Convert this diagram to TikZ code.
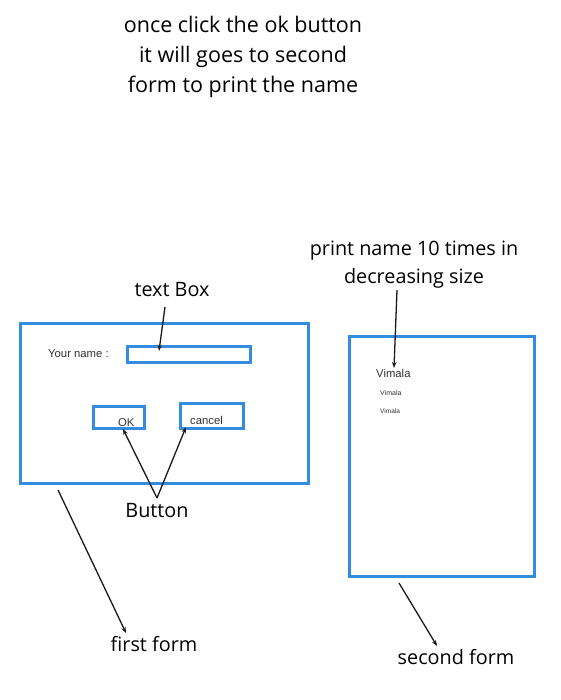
\documentclass[tikz,border=0pt]{standalone}
\usepackage{fontspec}
\setmainfont{Open Sans}
\newfontfamily\formfont{Liberation Sans}
\usetikzlibrary{positioning, arrows.meta}
\definecolor{formblue}{RGB}{52,140,222}
\definecolor{formtext}{RGB}{50,50,50}

\begin{document}
\begin{tikzpicture}[
    x=1pt, y=-1pt,
    note/.style={font=\fontsize{19.8}{28}\selectfont, align=center, inner sep=0pt, text=black},
    frame/.style={draw=formblue, line width=3pt, inner sep=0pt},
    ftext/.style={font=\formfont\fontsize{11.3}{13}\selectfont, text=formtext, inner sep=0pt},
    flow/.style={-{Stealth[length=6pt, width=4.5pt]}, line width=1.3pt, draw=black!90}
]
\useasboundingbox (0,0) rectangle (561,700);
% title
\node[note, font=\fontsize{21.5}{30}\selectfont] (title) at (243,57) {once click the ok button\\it will goes to second\\form to print the name};
% first form
\node[frame, minimum width=288pt, minimum height=160pt] (form1) at (164,403) {};
\node[ftext, anchor=west] (yourname) at (48,354) {Your name :};
\node[frame, minimum width=123pt, minimum height=16pt] (namebox) at (188.5,354) {};
\node[frame, minimum width=51pt, minimum height=22pt] (okbtn) at (118.5,417) {};
\node[ftext, anchor=base west] (oktext) at (118,426) {OK};
\node[frame, minimum width=63pt, minimum height=25pt] (cancelbtn) at (211.5,415.5) {};
\node[ftext, anchor=base west] (canceltext) at (190,424.5) {cancel};
% second form
\node[frame, minimum width=185pt, minimum height=240pt] (form2) at (441.5,456) {};
\node[ftext, anchor=base west] (name1) at (376,377.5) {Vimala};
\node[ftext, anchor=base west, font=\formfont\fontsize{7}{8}\selectfont] (name2) at (380,395.5) {Vimala};
\node[ftext, anchor=base west, font=\formfont\fontsize{6.5}{8}\selectfont] (name3) at (380,413.5) {Vimala};
% annotations
\node[note] (boxlabel) at (172,290) {text Box};
\node[note] (btnlabel) at (157,511) {Button};
\node[note] (printlabel) at (414,265) {print name 10 times in\\decreasing size};
\node[note] (form1label) at (154,644) {first form};
\node[note] (form2label) at (456,657) {second form};
% arrows
\coordinate (boxstart) at (165,307);
\coordinate (boxtip) at (159,351);
\coordinate (btnstart) at (157,498);
\coordinate (oktip) at (123,429);
\coordinate (canceltip) at (186,427);
\coordinate (printstart) at (397,290);
\coordinate (printtip) at (394,368);
\coordinate (form1start) at (58,490);
\coordinate (form1tip) at (126,633);
\coordinate (form2start) at (399,583);
\coordinate (form2tip) at (437,646);
\draw[flow] (boxstart) -- (boxtip);
\draw[flow] (btnstart) -- (oktip);
\draw[flow] (btnstart) -- (canceltip);
\draw[flow] (printstart) -- (printtip);
\draw[flow] (form1start) -- (form1tip);
\draw[flow] (form2start) -- (form2tip);
\end{tikzpicture}
\end{document}
